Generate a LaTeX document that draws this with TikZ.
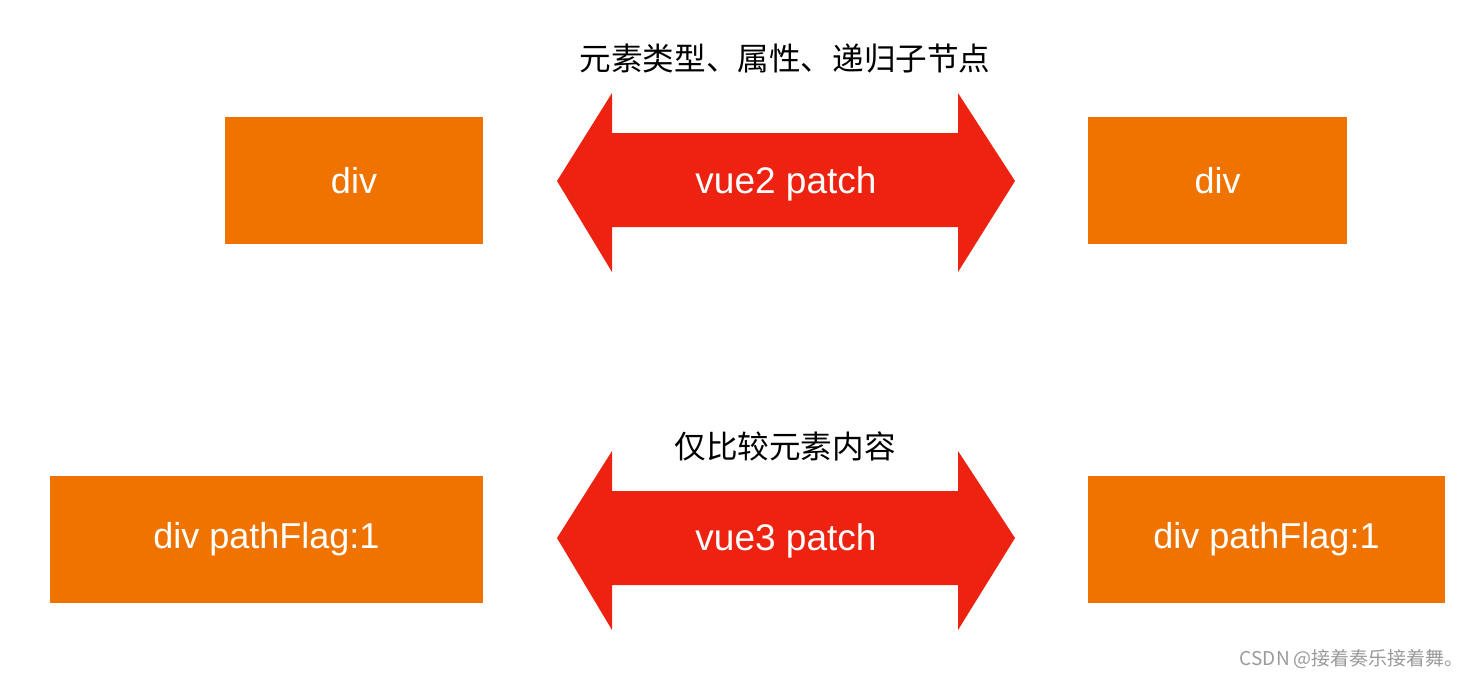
\documentclass[tikz,border=0pt]{standalone}
\usepackage{fontspec}
\setmainfont{Liberation Sans}
\newfontfamily\cjk{Noto Sans CJK SC}
\definecolor{boxorange}{HTML}{F07300}
\definecolor{arrowred}{HTML}{EE2210}
\definecolor{wmgrey}{HTML}{9A9A9A}
\begin{document}
\begin{tikzpicture}[x=0.5pt,y=-0.5pt,
  elem/.style={fill=boxorange,draw=none,inner sep=0pt,text=white,font=\fontsize{18}{20}\selectfont},
  lbl/.style={text=white,font=\fontsize{18.5}{20}\selectfont},
  captext/.style={text=black,font=\cjk\fontsize{15.8}{17}\selectfont},
  bigarrow/.style={fill=arrowred,draw=none}]
\useasboundingbox (0,0) rectangle (1472,677);
% top row
\node[elem,minimum width=129pt,minimum height=63.5pt] (d1) at (354,180.5) {div};
\node[elem,minimum width=129.5pt,minimum height=63.5pt] (d2) at (1217.5,180.5) {div};
\fill[bigarrow] (557,181) -- (612,93) -- (612,133) -- (958,133) -- (958,93) -- (1015,181)
  -- (958,272) -- (958,227) -- (612,227) -- (612,272) -- cycle;
\node[lbl] (a1) at (786,184) {vue2 patch};
\node[captext] (t1) at (785,58) {元素类型、属性、递归子节点};
% bottom row
\node[elem,minimum width=216.5pt,minimum height=63.5pt] (d3) at (266.5,539.5) {div pathFlag:1};
\node[elem,minimum width=178.5pt,minimum height=63.5pt] (d4) at (1266.5,539.5) {div pathFlag:1};
\fill[bigarrow] (557,538) -- (612,451) -- (612,491) -- (958,491) -- (958,451) -- (1015,538)
  -- (958,630) -- (958,585) -- (612,585) -- (612,630) -- cycle;
\node[lbl] (a2) at (786,541) {vue3 patch};
\node[captext] (t2) at (785,446) {仅比较元素内容};
% watermark
\node[anchor=east,text=wmgrey,font=\cjk\fontsize{9.5}{11}\selectfont] (wm) at (1471,659) {CSDN @接着奏乐接着舞。};
\end{tikzpicture}
\end{document}
